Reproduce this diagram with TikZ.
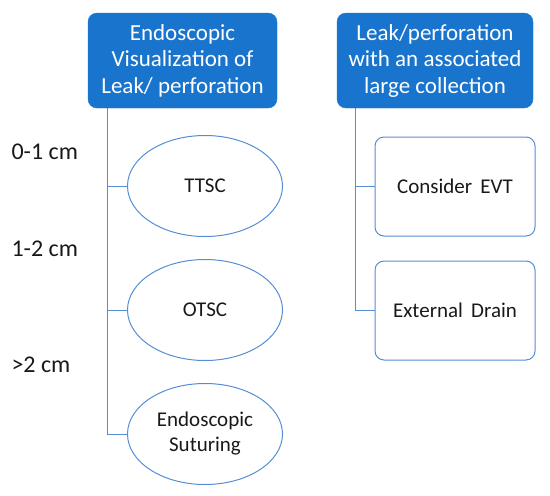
\documentclass[tikz,border=0pt]{standalone}
\usepackage{fontspec}
\setmainfont{Carlito}
\usetikzlibrary{shapes.geometric}
\definecolor{hdrblue}{RGB}{24,116,204}
\definecolor{linkblue}{RGB}{86,142,212}
\definecolor{txtgray}{RGB}{25,25,25}
\begin{document}
\begin{tikzpicture}
        [x=1pt, y=-1pt,
        header/.style={rectangle, rounded corners=9pt, fill=hdrblue, draw=hdrblue, text=white, minimum height=95pt, inner sep=0pt, align=center, font=\fontsize{23}{26.5}\selectfont},
        tool/.style={ellipse, draw=linkblue, line width=1pt, minimum width=155pt, minimum height=101pt, inner sep=0pt, align=center, text=txtgray, font=\fontsize{21}{25}\selectfont},
        action/.style={rectangle, rounded corners=9pt, draw=linkblue, line width=1pt, minimum width=160pt, minimum height=99pt, inner sep=0pt, align=center, text=txtgray, font=\fontsize{21}{24}\selectfont},
        size/.style={anchor=west, text=txtgray, font=\fontsize{24}{26}\selectfont},
        link/.style={draw=linkblue, line width=1pt}]
%%
\useasboundingbox (0,0) rectangle (550,496);
%%
%% Headers
%%
\node[header, minimum width=189pt] (visual) at (182.5,60.5) {Endoscopic\\Visualization of\\Leak/ perforation};
\node[header, minimum width=196pt] (collect) at (435,60.5) {Leak/perforation\\with an associated\\large collection};
%%
%% Left branch
%%
\node[tool] (ttsc) at (205,186) {TTSC};
\node[tool] (otsc) at (205,310) {OTSC};
\node[tool] (sutur) at (205,434) {Endoscopic\\Suturing};
%%
%% Right branch
%%
\node[action] (evt) at (455,186.5) {Consider \,EVT};
\node[action] (drain) at (455,310.5) {External \,Drain};
%%
%% Sizes
%%
\node[size] (small) at (8,152) {0-1 cm};
\node[size] (medium) at (8,249) {1-2 cm};
\node[size] (large) at (8,365) {>2 cm};
%%
%% Connectors
%%
\draw[link] ([xshift=20pt]visual.south west) |- (sutur.west);
\draw[link] ([xshift=20pt]visual.south west) |- (ttsc.west);
\draw[link] ([xshift=20pt]visual.south west) |- (otsc.west);
\draw[link] ([xshift=19pt]collect.south west) |- (drain.west);
\draw[link] ([xshift=19pt]collect.south west) |- (evt.west);
\end{tikzpicture}
\end{document}
